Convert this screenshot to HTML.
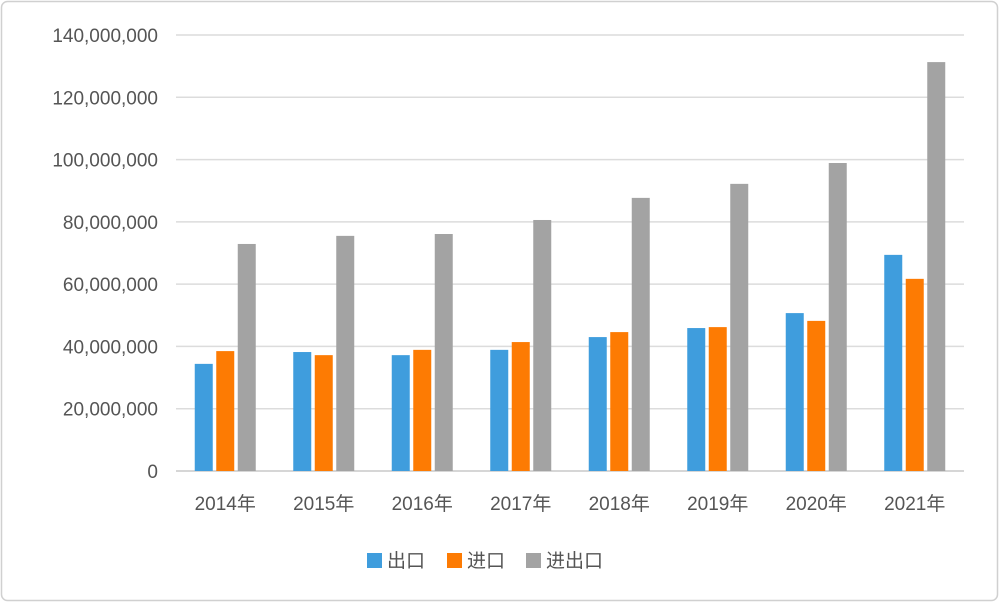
<!DOCTYPE html>
<html><head><meta charset="utf-8"><style>
body{margin:0;background:#fff;}
svg text{font-family:"Liberation Sans","Noto Sans CJK SC",sans-serif;fill:#555;}
</style></head><body>
<svg id="chart" width="1000" height="603" viewBox="0 0 1000 603" xmlns="http://www.w3.org/2000/svg">
<rect x="1.5" y="1.5" width="996" height="599" rx="6" fill="#fff" stroke="#d0d0d0" stroke-width="1.5"/>
<g id="grid"></g><g id="bars"></g><g id="xlabels"></g><g id="ylabels"></g>
<g>
<rect x="367" y="553" width="15" height="15" fill="#3f9ddd"/>
<text x="387" y="567" font-size="19">出口</text>
<rect x="447" y="553" width="15" height="15" fill="#fd7b03"/>
<text x="467" y="567" font-size="19">进口</text>
<rect x="526" y="553" width="15" height="15" fill="#a3a3a3"/>
<text x="546" y="567" font-size="19">进出口</text>
</g>
</svg>
<script>
const categories=["2014年","2015年","2016年","2017年","2018年","2019年","2020年","2021年"];
const exportVals=[34.4,38.2,37.2,38.9,43.0,45.9,50.7,69.4];
const importVals=[38.5,37.2,38.9,41.4,44.6,46.2,48.2,61.7];
const totalVals=[72.9,75.5,76.1,80.6,87.7,92.2,98.9,131.3];
const yTicks=[0,20,40,60,80,100,120,140];
const yTickLabels=["0","20,000,000","40,000,000","60,000,000","80,000,000","100,000,000","120,000,000","140,000,000"];
const NS="http://www.w3.org/2000/svg";
const left=176,right=964,y0=471,yTop=35,maxV=140;
const y=v=>y0-(v/maxV)*(y0-yTop);
const band=(right-left)/categories.length;
const x=i=>left+band*i;
function mk(tag,attrs,parent){const e=document.createElementNS(NS,tag);for(const k in attrs)e.setAttribute(k,attrs[k]);document.getElementById(parent).appendChild(e);return e;}
yTicks.forEach((t,i)=>{
 const l=mk('line',{x1:left,x2:right,y1:y(t),y2:y(t),stroke:i===0?'#c8c8c8':'#dcdcdc','stroke-width':1.5},'grid');
 
 
 const tx=mk('text',{x:158,y:y(t)+7,'font-size':19,'text-anchor':'end'},'ylabels');
 tx.textContent=yTickLabels[i];
 
 
});
const series=[[exportVals,'#3f9ddd','export'],[importVals,'#fd7b03','import'],[totalVals,'#a3a3a3','total']];
const bw=18,gap=3.5;
categories.forEach((c,i)=>{
 const start=x(i)+band/2-(3*bw+2*gap)/2;
 series.forEach((s,j)=>{
  const v=s[0][i];
  const r=mk('rect',{x:start+j*(bw+gap),y:y(v),width:bw,height:y0-y(v),fill:s[1]},'bars');
  
  
 });
 const t=mk('text',{x:x(i)+band/2,y:510,'font-size':19,'text-anchor':'middle'},'xlabels');
 t.textContent=c;
 
 
});
</script>
</body></html>
